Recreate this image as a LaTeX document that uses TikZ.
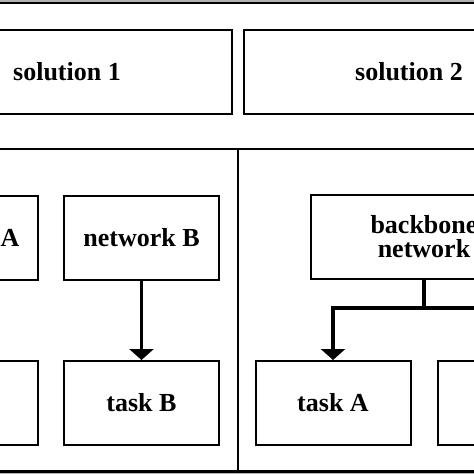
\documentclass[tikz,border=0pt]{standalone}
\usepackage{fontspec}
\setmainfont{Liberation Serif}
\usetikzlibrary{arrows.meta}

\begin{document}
\begin{tikzpicture}[x=1pt,y=-1pt,
	blk/.style={draw, line width=2pt, minimum width=155pt, minimum height=84pt, inner sep=0pt, align=center, font=\bfseries\fontsize{26}{24.5}\selectfont},
	sol/.style={blk, minimum width=330pt},
	link/.style={line width=3.2pt},
	tip/.style={-{Triangle[width=24pt,length=11pt]}}]
	\useasboundingbox (0,0) rectangle (474,474);
	\clip (0,0) rectangle (474,474);
	% outer frame
	\fill[gray!60] (0,0) rectangle (474,1.6);
	\draw[line width=2.4pt] (-50,3) -- (530,3);
	\fill[gray!60] (0,473) rectangle (474,474);
	\draw[line width=3pt] (-50,471) -- (530,471);
	\draw[line width=2pt] (-50,149) -- (530,149);
	\draw[line width=2pt] (238,149) -- (238,471);
	% solutions
	\node[sol] (sol1) at (67,72) {solution 1};
	\node[sol] (sol2) at (409,72) {solution 2};
	% solution 1: two networks
	\node[blk] (netA) at (-39.5,237.5) {network A};
	\node[blk] (netB) at (141.5,237.5) {network B};
	\node[blk] (taskAl) at (-39.5,403) {task A};
	\node[blk] (taskB) at (141.5,403) {task B};
	\path[link, tip] (netB) edge (taskB);
	% solution 2: shared backbone
	\node[blk, minimum width=226pt] (bb) at (424,236.5) {backbone\\network};
	\node[blk] (taskA) at (333,403) {task A};
	\node[blk] (taskBr) at (515.5,403) {task B};
	\coordinate (fork) at (424,308);
	\draw[link] (bb.south) -- (fork);
	\draw[link, tip] (fork) -| (taskA.north);
	\draw[link, tip] (fork) -| (taskBr.north);
\end{tikzpicture}
\end{document}
